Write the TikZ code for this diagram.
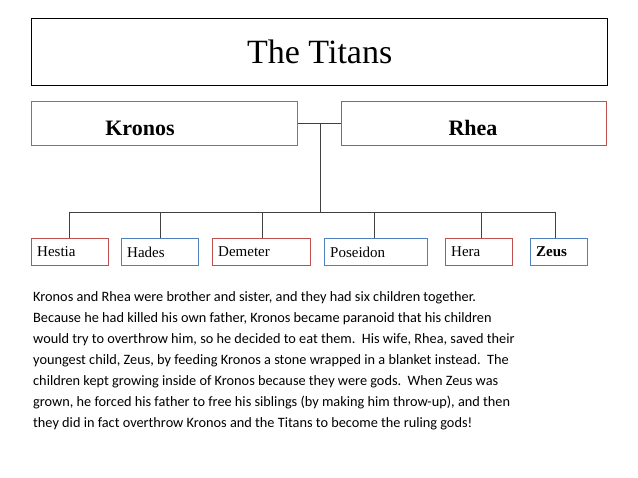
\documentclass[tikz,border=0pt]{standalone}
\usepackage{fontspec}
\setmainfont{Liberation Serif}
\newfontfamily\bodyfont{Carlito}
\definecolor{bblue}{RGB}{79,129,189}
\definecolor{rred}{RGB}{192,80,77}
\tikzset{box/.style={draw,line width=1.4pt,inner sep=0pt,anchor=north west},
  lnk/.style={draw,line width=0.8pt,black!75}}
\begin{document}
\begin{tikzpicture}[x=1pt,y=-1pt]
\useasboundingbox (0,0) rectangle (638,478);
\node[box,black,minimum width=576pt,minimum height=67pt,font=\fontsize{34}{40}\selectfont] (title) at (31,18) {The Titans};
\node[box,bblue,minimum width=266pt,minimum height=44pt] (kronos) at (31,101) {};
\node[font=\bfseries\fontsize{22}{26}\selectfont] at (140,128) {Kronos};
\node[box,rred,minimum width=265pt,minimum height=44pt] (rhea) at (341,101) {};
\node[font=\bfseries\fontsize{22}{26}\selectfont] at (473,128) {Rhea};
\coordinate (m) at (320,123);
\coordinate (bar) at (320,212);
\draw[lnk] (kronos.east) -- (rhea.west);
\draw[lnk] (m) -- (bar);
\draw[lnk] (69.5,212) -- (555,212);
\foreach \n/\l/\w/\c/\dx/\t in {hestia/31/77/rred/69.5/Hestia, hades/121/77/bblue/160/Hades, demeter/212/98/rred/262/Demeter, poseidon/324/103/bblue/374/Poseidon, hera/445/67/rred/481/Hera, zeus/530/57/bblue/555/\textbf{Zeus}}{
  \node[box,\c,minimum width=\w pt,minimum height=27pt] (\n) at (\l,238) {};
  \node[anchor=west,font=\fontsize{15}{18}\selectfont,inner sep=0pt] at (\l+6,252) {\t};
  \draw[lnk] (\dx,212) -- (\dx,238);
}
\node[anchor=north west,inner sep=0pt,align=left,font=\bodyfont\fontsize{14.3}{21}\selectfont] (txt) at (33,291) {Kronos and Rhea were brother and sister, and they had six children together.\\
Because he had killed his own father, Kronos became paranoid that his children\\
would try to overthrow him, so he decided to eat them.\ \ His wife, Rhea, saved their\\
youngest child, Zeus, by feeding Kronos a stone wrapped in a blanket instead.\ \ The\\
children kept growing inside of Kronos because they were gods.\ \ When Zeus was\\
grown, he forced his father to free his siblings (by making him throw-up), and then\\
they did in fact overthrow Kronos and the Titans to become the ruling gods!};
\end{tikzpicture}
\end{document}
